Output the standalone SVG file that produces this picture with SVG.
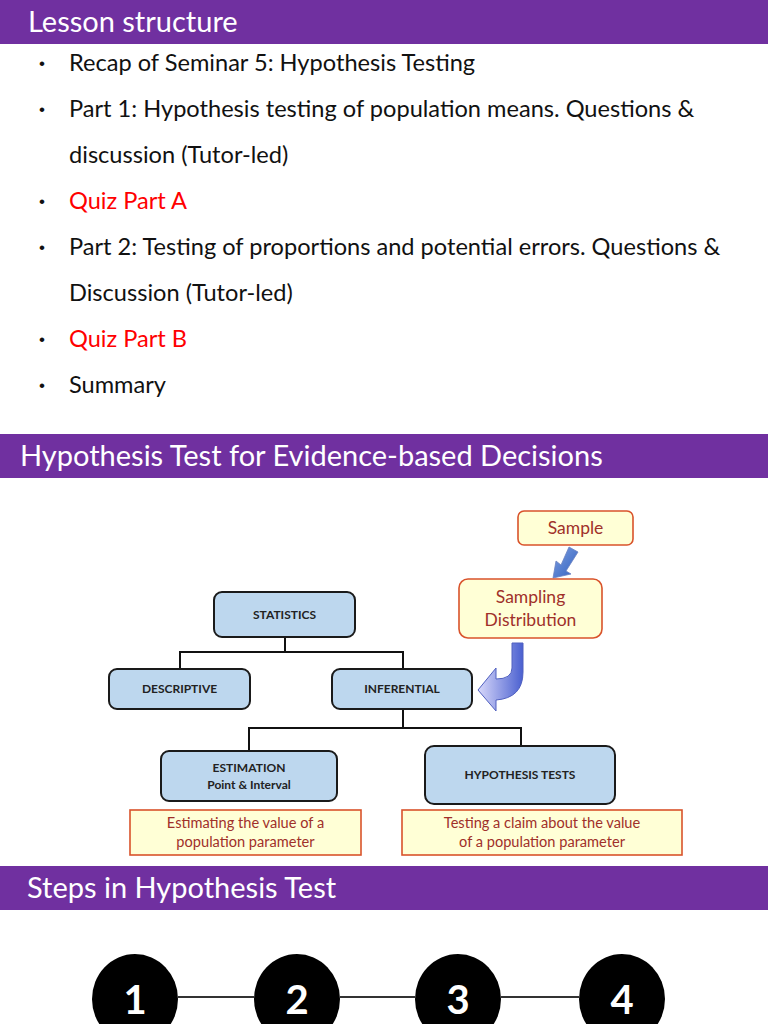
<svg xmlns="http://www.w3.org/2000/svg" width="768" height="1024" viewBox="0 0 768 1024">
<defs>
<style>
.bar{fill:#7030A0}
.title{font-family:Lato,"Liberation Sans",sans-serif;font-size:29px;fill:#fff}
.li{font-family:Lato,"Liberation Sans",sans-serif;font-size:23.6px;fill:#111}
.bu{font-family:"Liberation Sans",sans-serif;font-size:17px;fill:#111}
.red{fill:#FF0000}
.blue{fill:#BDD7EE;stroke:#1a1a1a;stroke-width:2}
.yel{fill:#FFFFD6;stroke:#D9532B;stroke-width:1.6}
.bt{font-family:Lato,"Liberation Sans",sans-serif;font-size:12px;font-weight:bold;fill:#222;text-anchor:middle}
.yt{font-family:Lato,"Liberation Sans",sans-serif;font-size:17.5px;fill:#A0302A;text-anchor:middle}
.ct{font-family:Lato,"Liberation Sans",sans-serif;font-size:14.6px;fill:#A0302A;text-anchor:middle}
.conn{fill:none;stroke:#111;stroke-width:2}
.num{font-family:Lato,"Liberation Sans",sans-serif;font-size:40px;font-weight:bold;fill:#fff;text-anchor:middle}
</style>
<linearGradient id="g1" x1="0" y1="0" x2="1" y2="1">
<stop offset="0" stop-color="#7FA0E0"/><stop offset="1" stop-color="#3060C0"/>
</linearGradient>
<linearGradient id="g2" x1="0" y1="0" x2="1" y2="0">
<stop offset="0" stop-color="#D8D8FA"/><stop offset="1" stop-color="#4A60D0"/>
</linearGradient>
</defs>
<rect width="768" height="1024" fill="#fff"/>

<g id="header1">
<rect class="bar" x="0" y="0" width="768" height="44"/>
<text class="title" x="28" y="32">Lesson structure</text>
</g>
<g id="bullets">
<g class="bu">
<text x="39" y="69">•</text><text x="39" y="115">•</text><text x="39" y="207">•</text><text x="39" y="253">•</text><text x="39" y="345">•</text><text x="39" y="391">•</text>
</g>
<g class="li">
<text x="69" y="71">Recap of Seminar 5: Hypothesis Testing</text>
<text x="69" y="117">Part 1: Hypothesis testing of population means. Questions &amp;</text>
<text x="69" y="163">discussion (Tutor-led)</text>
<text x="69" y="209" class="red">Quiz Part A</text>
<text x="69" y="255">Part 2: Testing of proportions and potential errors. Questions &amp;</text>
<text x="69" y="301">Discussion (Tutor-led)</text>
<text x="69" y="347" class="red">Quiz Part B</text>
<text x="69" y="393">Summary</text>
</g>
</g>

<g id="header2">
<rect class="bar" x="0" y="434" width="768" height="44"/>
<text class="title" x="20" y="466">Hypothesis Test for Evidence-based Decisions</text>
</g>

<g id="connectors">
<path class="conn" d="M285 637 V652 M180 669 V652 H403 V669"/>
<path class="conn" d="M403 709 V728 M249 751 V728 H521 V746"/>
<polygon points="569,547 578,552 566,571 571,574 553,578 556,561 561,565" fill="url(#g1)" stroke="#6A80C0" stroke-width="0.8"/>
<path d="M512 643 H523 V672 Q523 698 496 700 V711 L478 690 L496 668 V679 Q512 679 512 668 Z" fill="url(#g2)" stroke="#5060C0" stroke-width="1"/>
</g>

<g id="sample">
<rect class="yel" x="518" y="511" width="115" height="34" rx="6"/>
<text class="yt" x="575.5" y="534">Sample</text>
</g>
<g id="sampling-distribution">
<rect class="yel" x="459" y="579" width="143" height="59" rx="9"/>
<text class="yt" x="530.5" y="603">Sampling</text>
<text class="yt" x="530.5" y="626">Distribution</text>
</g>
<g id="statistics">
<rect class="blue" x="214" y="592" width="141" height="45" rx="8"/>
<text class="bt" x="284.5" y="619">STATISTICS</text>
</g>
<g id="descriptive">
<rect class="blue" x="109" y="669" width="141" height="40" rx="8"/>
<text class="bt" x="179.5" y="693">DESCRIPTIVE</text>
</g>
<g id="inferential">
<rect class="blue" x="332" y="669" width="140" height="40" rx="8"/>
<text class="bt" x="402" y="693">INFERENTIAL</text>
</g>
<g id="estimation">
<rect class="blue" x="161" y="751" width="176" height="50" rx="8"/>
<text class="bt" x="249" y="772">ESTIMATION</text>
<text class="bt" x="249" y="789">Point &amp; Interval</text>
</g>
<g id="hypothesis-tests">
<rect class="blue" x="425" y="746" width="190" height="58" rx="9"/>
<text class="bt" x="520" y="779">HYPOTHESIS TESTS</text>
</g>
<g id="estimating-caption">
<rect class="yel" x="130" y="810" width="231" height="45"/>
<text class="ct" x="245.5" y="828">Estimating the value of a</text>
<text class="ct" x="245.5" y="847">population parameter</text>
</g>
<g id="testing-caption">
<rect class="yel" x="402" y="810" width="280" height="45"/>
<text class="ct" x="542" y="828">Testing a claim about the value</text>
<text class="ct" x="542" y="847">of a population parameter</text>
</g>

<g id="header3">
<rect class="bar" x="0" y="866" width="768" height="44"/>
<text class="title" x="27" y="898">Steps in Hypothesis Test</text>
</g>
<g id="step-connectors">
<path d="M178 997 H254 M340 997 H415 M501 997 H579" stroke="#333" stroke-width="2" fill="none"/>
</g>
<g id="step1"><ellipse cx="135" cy="999" rx="43" ry="45" fill="#000"/><text class="num" x="135" y="1014">1</text></g>
<g id="step2"><ellipse cx="297" cy="999" rx="43" ry="45" fill="#000"/><text class="num" x="297" y="1014">2</text></g>
<g id="step3"><ellipse cx="458" cy="999" rx="43" ry="45" fill="#000"/><text class="num" x="458" y="1014">3</text></g>
<g id="step4"><ellipse cx="622" cy="999" rx="43" ry="45" fill="#000"/><text class="num" x="622" y="1014">4</text></g>
</svg>
